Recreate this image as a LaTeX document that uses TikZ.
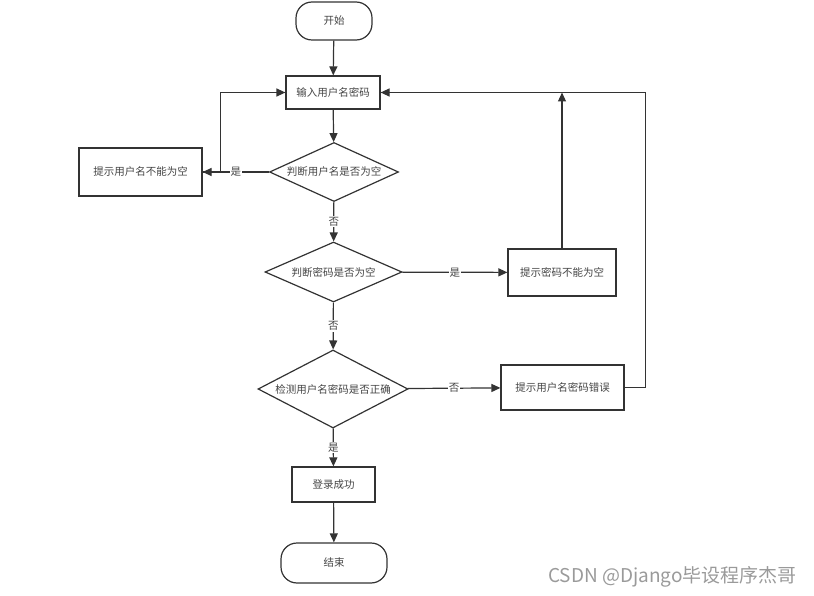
\documentclass[tikz,border=0pt]{standalone}
\usepackage{fontspec}
\setmainfont{Noto Sans CJK SC}
\usetikzlibrary{shapes.geometric, arrows.meta}

\definecolor{linegray}{HTML}{333333}
\definecolor{textgray}{HTML}{444444}
\definecolor{markgray}{HTML}{9A9A9A}

\tikzset{
    box/.style={draw=linegray, line width=1.2pt, inner sep=0pt, text=textgray, font=\fontsize{10.5}{12}\selectfont},
    terminal/.style={box, rounded corners=16pt},
    decision/.style={box, diamond},
    flow/.style={draw=linegray, line width=1.2pt, -{Stealth[inset=0pt, length=9pt, width=8pt]}},
    answer/.style={fill=white, inner sep=1pt, text=textgray, font=\fontsize{10.5}{12}\selectfont},
}

\begin{document}
\begin{tikzpicture}[x=1pt, y=-1pt]
        \useasboundingbox (0, 0) rectangle (814, 596);

        \node[terminal, minimum width=76pt, minimum height=38pt] (start) at (334, 21) {开始};
        \node[box, minimum width=94pt, minimum height=33pt] (input) at (333, 92.5) {输入用户名密码};
        \node[decision, aspect=2.19, minimum width=129pt, minimum height=59pt] (checkname) at (334, 172) {判断用户名是否为空};
        \node[box, minimum width=123pt, minimum height=48pt] (namehint) at (140.5, 172) {提示用户名不能为空};
        \node[decision, aspect=2.28, minimum width=137pt, minimum height=60pt] (checkpwd) at (333.5, 272) {判断密码是否为空};
        \node[box, minimum width=108pt, minimum height=47pt] (pwdhint) at (562, 272.5) {提示密码不能为空};
        \node[decision, aspect=1.92, minimum width=150pt, minimum height=78pt] (verify) at (333, 389) {检测用户名密码是否正确};
        \node[box, minimum width=123pt, minimum height=45pt] (errhint) at (562.5, 387.5) {提示用户名密码错误};
        \node[box, minimum width=83pt, minimum height=35pt] (success) at (333.5, 484.5) {登录成功};
        \node[terminal, minimum width=106pt, minimum height=40pt] (finish) at (334, 563) {结束};

        % main line
        \draw[flow] (start) -- (input);
        \draw[flow] (input) -- (checkname);
        \draw[flow] (checkname) -- node[answer] {否} (checkpwd);
        \draw[flow] (checkpwd) -- node[answer] {否} (verify);
        \draw[flow] (verify) -- node[answer] {是} (success);
        \draw[flow] (success) -- (finish);

        % hints and loops back
        \draw[flow] (checkname) -- node[answer] {是} (namehint);
        \draw[flow] (namehint.east) -- ++(18, 0) |- (input.west);
        \draw[flow] (checkpwd) -- node[answer] {是} (pwdhint);
        \draw[flow] (pwdhint) -- (pwdhint |- input);
        \draw[flow] (verify) -- node[answer] {否} (errhint);
        \draw[flow] (errhint.east) -- ++(21, 0) |- (input.east);

        \node[anchor=west, inner sep=0pt, text=markgray, font=\fontsize{19}{22}\selectfont] (mark) at (548, 577) {CSDN @Django毕设程序杰哥};
\end{tikzpicture}
\end{document}
